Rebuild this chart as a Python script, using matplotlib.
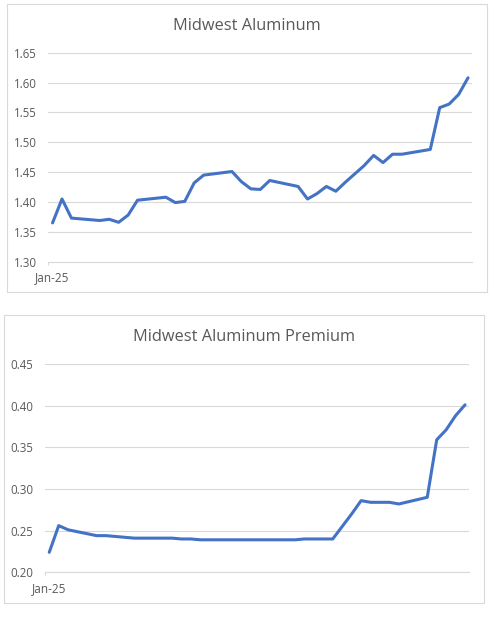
import matplotlib
matplotlib.use("Agg")
import matplotlib.pyplot as plt
import matplotlib.dates as mdates
from matplotlib.patches import Rectangle
import pandas as pd
import numpy as np

plt.rcParams['font.family'] = ['Open Sans', 'DejaVu Sans']

dates = pd.to_datetime([
    "2025-01-01", "2025-01-02", "2025-01-03", "2025-01-06", "2025-01-07",
    "2025-01-08", "2025-01-09", "2025-01-10", "2025-01-13", "2025-01-14",
    "2025-01-15", "2025-01-16", "2025-01-17", "2025-01-20", "2025-01-21",
    "2025-01-22", "2025-01-23", "2025-01-24", "2025-01-27", "2025-01-28",
    "2025-01-29", "2025-01-30", "2025-01-31", "2025-02-01", "2025-02-02",
    "2025-02-03", "2025-02-04", "2025-02-05", "2025-02-06", "2025-02-07",
    "2025-02-10", "2025-02-11", "2025-02-12", "2025-02-13", "2025-02-14",
])

aluminum = [1.365, 1.405, 1.373, 1.369, 1.371, 1.366, 1.378, 1.403, 1.408, 1.399,
            1.401, 1.432, 1.445, 1.451, 1.434, 1.422, 1.421, 1.436, 1.426, 1.405,
            1.414, 1.426, 1.418, 1.433, 1.447, 1.461, 1.478, 1.466, 1.480, 1.480,
            1.488, 1.558, 1.564, 1.580, 1.608]

premium = [0.224, 0.256, 0.251, 0.244, 0.244, 0.243, 0.242, 0.241, 0.241, 0.241,
           0.240, 0.240, 0.239, 0.239, 0.239, 0.239, 0.239, 0.239, 0.239, 0.240,
           0.240, 0.240, 0.240, 0.255, 0.270, 0.286, 0.284, 0.284, 0.284, 0.282,
           0.290, 0.359, 0.371, 0.388, 0.401]

titles = ["Midwest Aluminum", "Midwest Aluminum Premium"]
y_ticks_top = [1.30, 1.35, 1.40, 1.45, 1.50, 1.55, 1.60, 1.65]
y_ticks_bot = [0.20, 0.25, 0.30, 0.35, 0.40, 0.45]
x_label = "Jan-25"

W, H = 495, 627
fig = plt.figure(figsize=(W / 100, H / 100), dpi=100)

LINE = "#4472C4"
GRID = "#D9D9D9"
TXT = "#595959"

def px_rect(x0, y0, x1, y1):
    return [x0 / W, 1 - y1 / H, (x1 - x0) / W, (y1 - y0) / H]

# chart borders
for (x0, y0, x1, y1) in [(7.3, 4.3, 487.3, 292.3), (4.3, 315.3, 484.3, 603.3)]:
    fig.patches.append(Rectangle((x0 / W, 1 - y1 / H), (x1 - x0) / W, (y1 - y0) / H,
                                 transform=fig.transFigure, fill=False,
                                 edgecolor=GRID, linewidth=0.8))

configs = [
    dict(rect=px_rect(48.3, 52.7, 472.3, 261.7), vals=aluminum, ticks=y_ticks_top,
         title=titles[0], tx=247, ty=26),
    dict(rect=px_rect(45.0, 364.0, 469.3, 572.3), vals=premium, ticks=y_ticks_bot,
         title=titles[1], tx=244, ty=337),
]

xnum = mdates.date2num(dates)
for c in configs:
    ax = fig.add_axes(c["rect"])
    ax.plot(dates, c["vals"], color=LINE, linewidth=2.2, solid_joinstyle="round",
            solid_capstyle="round", zorder=3)
    ax.set_ylim(c["ticks"][0], c["ticks"][-1])
    ax.set_yticks(c["ticks"])
    ax.set_yticklabels([f"{t:.2f}" for t in c["ticks"]])
    ax.set_xlim(xnum[0] - 0.45, xnum[-1] + 0.45)
    ax.set_xticks([xnum[0]])
    ax.set_xticklabels([x_label])
    ax.set_xticks([xnum[0] - 0.45], minor=True)
    ax.tick_params(axis="x", which="major", length=0, pad=7, labelsize=8.5, labelcolor=TXT)
    ax.tick_params(axis="x", which="minor", length=2.5, width=0.8, color=GRID)
    ax.tick_params(axis="y", length=0, pad=8.5, labelsize=8.3, labelcolor=TXT)
    ax.grid(axis="y", color=GRID, linewidth=0.8)
    ax.set_axisbelow(True)
    for s in ["top", "right", "left"]:
        ax.spines[s].set_visible(False)
    ax.spines["bottom"].set_color(GRID)
    ax.spines["bottom"].set_linewidth(0.8)
    ax.patch.set_alpha(0)
    fig.text(c["tx"] / W, 1 - c["ty"] / H, c["title"], ha="center", va="center",
             fontsize=11.8, color=TXT)

fig.savefig("out.png", dpi=100, facecolor="white")
